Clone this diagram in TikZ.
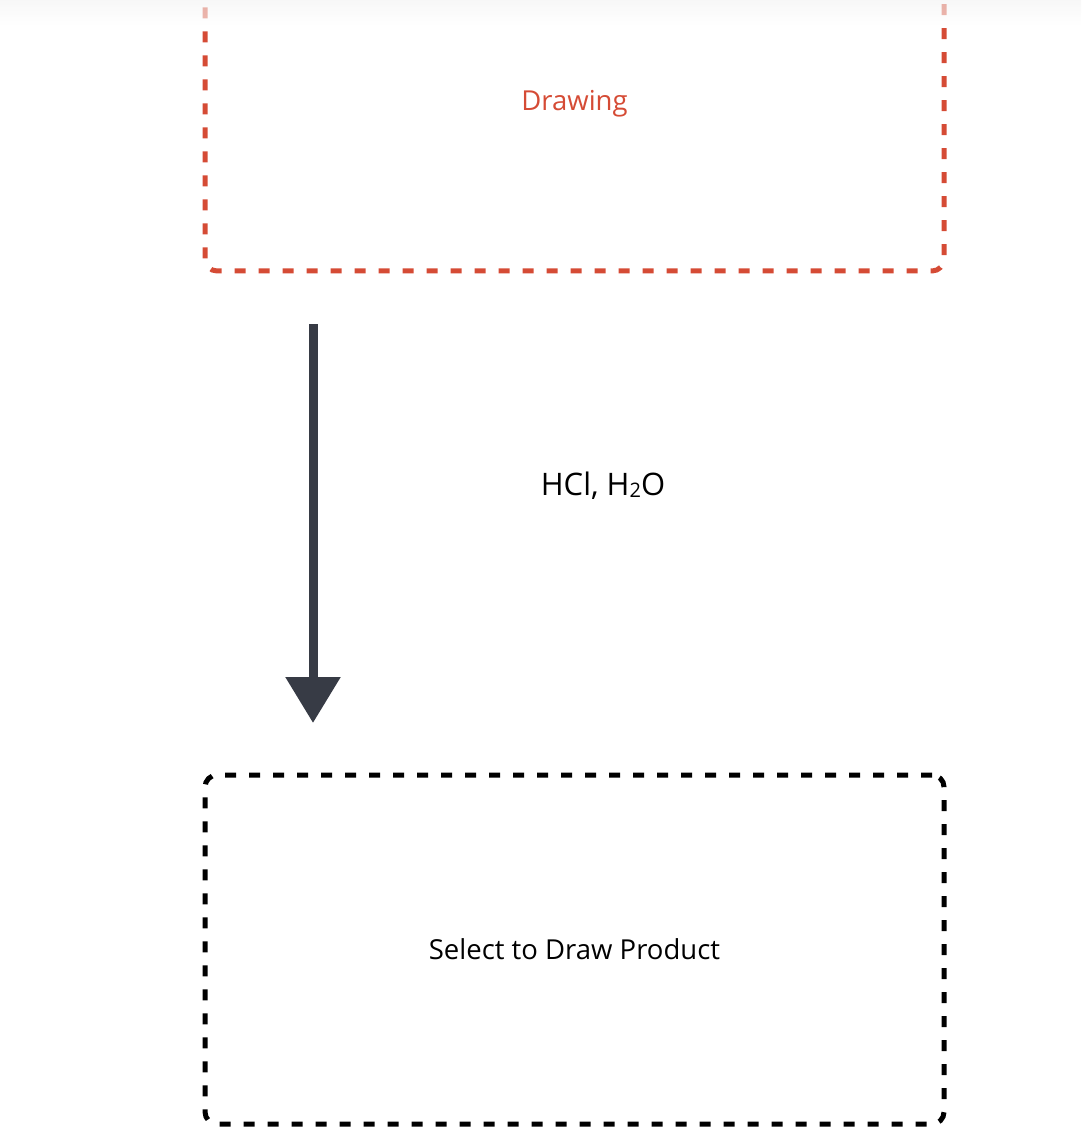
\documentclass[tikz,border=0pt]{standalone}
\usepackage{fontspec}
\setmainfont{Open Sans}
\usetikzlibrary{positioning, arrows.meta}

\definecolor{drawred}{HTML}{D54B35}
\definecolor{arrowgray}{HTML}{373B45}

\tikzset{
    molbox/.style = {draw, line width=5pt, dash pattern=on 11pt off 13pt,
        rounded corners=12pt, minimum width=739pt, inner sep=0pt},
    boxtext/.style = {font=\fontsize{27.5}{32}\selectfont}
}

\begin{document}
\begin{tikzpicture}[x=1pt, y=-1pt]
    \useasboundingbox (0,0) rectangle (1081,1147);
    \node (start) [molbox, drawred, boxtext, text=drawred, minimum height=334pt] at (574.5,104) {Drawing};
    \node (product) [molbox, black, boxtext, minimum height=349pt] at (574.5,949.5) {Select to Draw Product};
    \coordinate (a1) at (313,324);
    \coordinate (a2) at (313,723);
    \draw[arrowgray, line width=9pt, -{Triangle[width=53pt, length=46pt]}] (a1) -- (a2);
    \node (reagent) [boxtext, font=\fontsize{31}{36}\selectfont] at (603,486) {HCl, H\raisebox{-2pt}{\fontsize{20}{22}\selectfont 2}O};
    % faint bar along the top edge
    \shade[top color=black!5, bottom color=white, fill opacity=0.6] (0,0) rectangle (1081,26);
\end{tikzpicture}
\end{document}
